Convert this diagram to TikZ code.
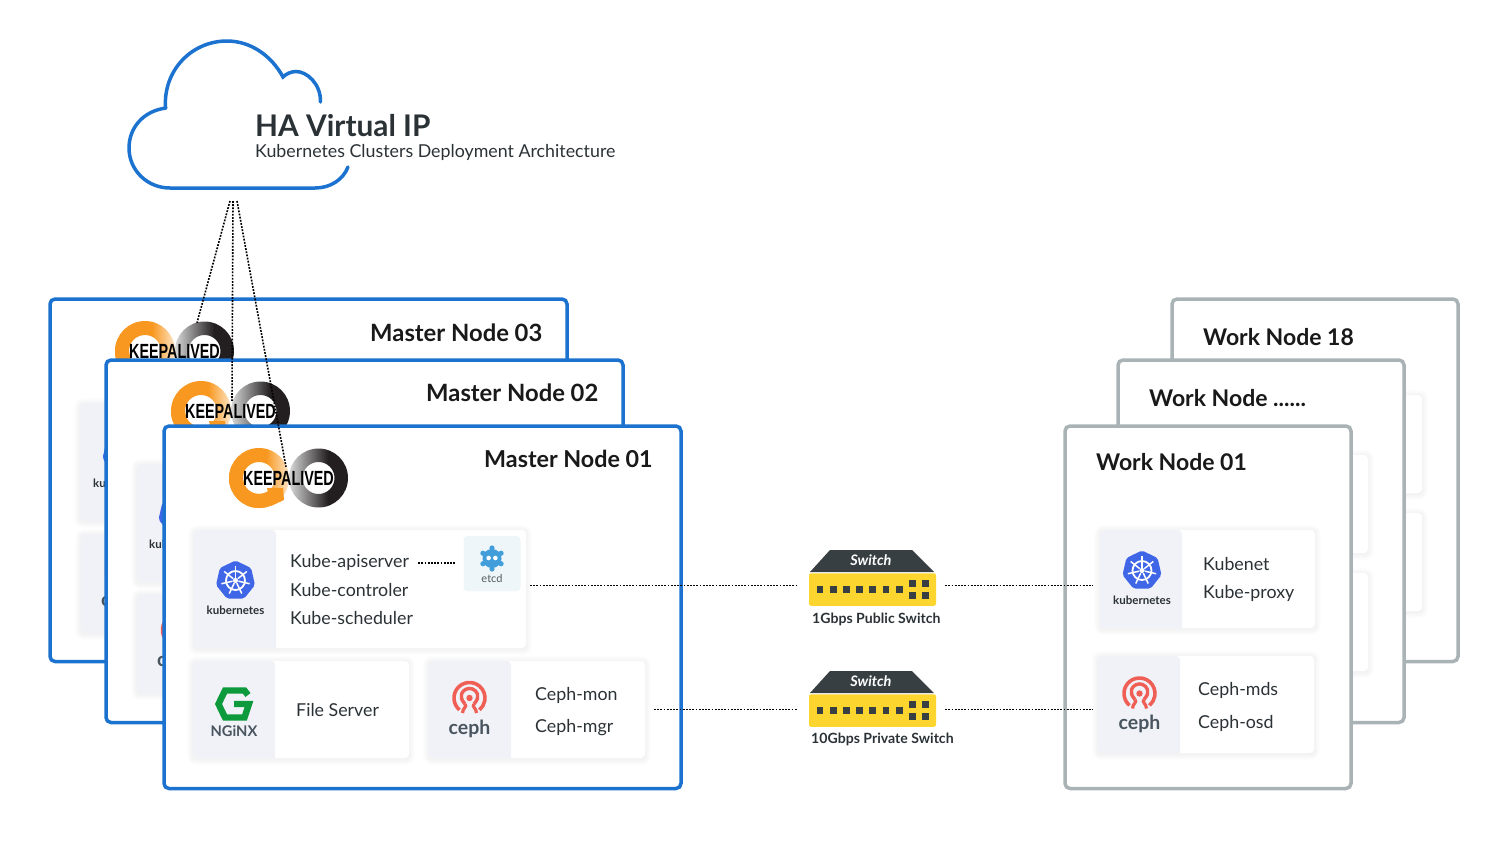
\documentclass[tikz,border=0pt]{standalone}
\usepackage{fontspec}
\setmainfont{Lato}
\newfontfamily\logofont{Liberation Sans}
\definecolor{masterblue}{HTML}{1C72CF}
\definecolor{workgray}{HTML}{A9B3B5}
\definecolor{panelfill}{HTML}{F1F2F8}
\definecolor{inktext}{HTML}{2B3236}
\definecolor{kubeblue}{HTML}{3F66E6}
\definecolor{cephred}{HTML}{EF5F56}
\definecolor{cephgray}{HTML}{48545E}
\definecolor{nginxgreen}{HTML}{0C9A3C}
\definecolor{etcdblue}{HTML}{419EDA}
\definecolor{etcdfill}{HTML}{EEF6FA}
\definecolor{switchdark}{HTML}{373F42}
\definecolor{switchyellow}{HTML}{FCD62F}
\definecolor{ringorange}{HTML}{F89820}
\definecolor{ringpale}{HTML}{FDE6C8}
\definecolor{ringblack}{HTML}{231F20}
\pgfdeclarehorizontalshading{orangering}{100bp}{color(0bp)=(ringorange); color(56bp)=(ringorange); color(75bp)=(ringpale); color(100bp)=(ringpale)}
\pgfdeclarehorizontalshading{blackring}{100bp}{color(0bp)=(white!85!black); color(25bp)=(white!85!black); color(58bp)=(ringblack); color(100bp)=(ringblack)}
\tikzset{
	masterbox/.style={draw=masterblue, fill=white, line width=3.5, rounded corners=5, anchor=north west, outer sep=0, minimum width=517, minimum height=362.5, inner sep=0},
	workbox/.style={draw=workgray, fill=white, line width=3.5, rounded corners=5, anchor=north west, outer sep=0, minimum width=286, minimum height=362.5, inner sep=0},
	nodetitle/.style={anchor=base west, inner sep=0, font=\fontsize{23.8}{26}\selectfont\bfseries, text=black!90},
	worktitle/.style={anchor=base west, inner sep=0, font=\fontsize{23}{26}\selectfont\bfseries, text=black!90},
	cardtext/.style={anchor=base west, inner sep=0, font=\fontsize{17.8}{20}\selectfont, text=inktext},
	cardbase/.style={fill=white, rounded corners=4, anchor=north west, inner sep=0, outer sep=0},
	cardshadow/.style={black, opacity=0.008},
	link/.style={line width=1.6, black, dash pattern=on 1.8pt off 1.4pt},
	switchlabel/.style={inner sep=0, font=\fontsize{14.1}{16}\selectfont\bfseries, text=inktext},
	keepalived/.pic={
		\shade[shading=orangering, even odd rule] (0,0) circle[radius=30] (0,0) circle[radius=16];
		\fill[ringorange] (180:30) arc[start angle=180, end angle=60, radius=30] -- (60:16) arc[start angle=60, end angle=180, radius=16] -- cycle;
		\fill[ringorange] (8,10) -- (24,10) -- (25,22) -- (12,28) -- cycle;
		\shade[shading=blackring, even odd rule] (59.5,0) circle[radius=29.5] (59.5,0) circle[radius=16];
		\node[inner sep=0, text=black, xscale=0.7, font=\logofont\fontsize{20.5}{22}\selectfont\bfseries] (-word) at (29.5,0) {KEEPALIVED};
	},
	kubelogo/.pic={
		\fill[kubeblue, rounded corners=2] (-90:20) -- (-38.6:20) -- (12.9:20) -- (64.3:20) -- (115.7:20) -- (167.1:20) -- (218.6:20) -- cycle;
		\draw[white, line width=1.8] (0,0) circle[radius=9.5];
		\foreach \a in {-90,-38.6,12.9,64.3,115.7,167.1,218.6}
			\draw[white, line width=1.5] (\a:3) -- (\a:14.5);
		\fill[white] (0,0) circle[radius=2.6];
		\node[inner sep=0, text=inktext, font=\fontsize{11.5}{13}\selectfont\bfseries] (-word) at (0,29.5) {kubernetes};
	},
	cephlogo/.pic={
		\draw[cephred, line width=3.6] (130:15.5) arc[start angle=130, end angle=410, radius=15.5];
		\draw[cephred, line width=3.4] (-4.5,6) .. controls (-8,2) and (-9,-1) .. (-8,-4) arc[start angle=200, end angle=340, radius=8.5] .. controls (9,-1) and (8,2) .. (4.5,6);
		\draw[cephred, line width=3.2] (-4.5,6) .. controls (-2,9) and (-7,10) .. (-7,15);
		\draw[cephred, line width=3.2] (4.5,6) .. controls (2,9) and (7,10) .. (7,15);
		\fill[cephred] (0,0) circle[radius=3.2];
		\node[inner sep=0, text=cephgray, font=\fontsize{19.5}{22}\selectfont\bfseries] (-word) at (0,30.5) {ceph};
	},
	nginxlogo/.pic={
		\draw[nginxgreen, line width=6.4, miter limit=4] (14,-9) -- (10.5,-13.5) -- (-9,-13.5) -- (-15.5,0) -- (-9,13.5) -- (10.5,13.5) -- (15,0) -- (0,0);
		\node[inner sep=0, text=cephgray, font=\fontsize{14.7}{16}\selectfont\bfseries] (-word) at (0,27) {NGiNX};
	},
	etcdlogo/.pic={
		\foreach \a in {0,60,...,300}
			\fill[etcdblue] (\a+30:10.5) circle[radius=2.6];
		\fill[etcdblue] (0,0) circle[radius=9.5];
		\fill[white] (-3.4,-0.5) circle[radius=2.3];
		\fill[white] (3.4,-0.5) circle[radius=2.3];
	},
	switchdetail/.pic={
		\fill[switchdark] (-62.5,-17.5) -- (-42.5,-39.5) -- (39.5,-39.5) -- (61.5,-17.5) -- cycle;
		\foreach \x in {-52.5,-39.2,-26.2,-12.8,0.2,13.5,26.8}
			\fill[switchdark] (\x-3.3,-3.3) rectangle (\x+3.3,3.3);
		\foreach \x in {39.8,52.8}
			\foreach \y in {-6.2,6.2}
				\fill[switchdark] (\x-3.5,\y-3.5) rectangle (\x+3.5,\y+3.5);
		\node[inner sep=0, text=white, font=\fontsize{14.5}{16}\selectfont\bfseries\itshape] (-word) at (-1.5,-29.5) {Switch};
	},
}
\newcommand{\cardbox}[6]{
	\foreach \g in {1,...,6}
		\fill[cardshadow, rounded corners=3+\g] (#2-\g,#3-\g+1) rectangle (#2+#4+\g,#3+#5+\g+1);
	\node[cardbase, minimum width=#4, minimum height=#5] (#1) at (#2,#3) {};
	\fill[panelfill, rounded corners=4] (#2+#6,#3) [sharp corners] -- (#2+#6,#3+#5) [rounded corners=4] -- (#2,#3+#5) -- (#2,#3) -- cycle;
}
\begin{document}
\begin{tikzpicture}[x=1pt, y=-1pt]
	\useasboundingbox (0,0) rectangle (1494,844);

	\draw[masterblue, line width=3.5, line cap=round] (320.5,102) .. controls (321,84) and (307,71.5) .. (296,71.5) .. controls (291,71.5) and (286,74) .. (283,77) .. controls (271,55) and (250,41) .. (227,41) .. controls (192,41) and (163,70) .. (165.5,108);
	\draw[masterblue, line width=3.5, line cap=round] (166,108) .. controls (143,111) and (129,128) .. (129,148) .. controls (129,170) and (147,188) .. (170,188) -- (315,188) .. controls (330,188) and (343,180) .. (348,167);
	\node[anchor=base west, inner sep=0, text=inktext, font=\fontsize{29.8}{32}\selectfont\bfseries] (vip) at (255,136) {HA Virtual IP};
	\node[anchor=base west, inner sep=0, text=inktext, font=\fontsize{17.8}{20}\selectfont] (vipsub) at (255,157) {Kubernetes Clusters Deployment Architecture};
	\coordinate (vipleft) at (230,201);
	\coordinate (vipmid) at (233,201);
	\coordinate (vipright) at (237,201);

	\node[masterbox] (masterthree) at (50,299) {};
	\pic (keepthree) at (145,351) {keepalived};
	\cardbox{kubethree}{80}{403}{332}{118}{82}
	\pic (logokubethree) at (122,454) {kubelogo};
	\cardbox{cephthree}{81}{534}{216}{99}{82}
	\pic (logocephthree) at (122,570) {cephlogo};
	\node[nodetitle] (titlethree) at (370,341) {Master Node 03};

	\node[masterbox] (mastertwo) at (106,360) {};
	\pic (keeptwo) at (201,411) {keepalived};
	\cardbox{kubetwo}{137}{464}{332}{118}{82}
	\pic (logokubetwo) at (178,515) {kubelogo};
	\cardbox{cephtwo}{137}{594}{216}{99}{82}
	\pic (logocephtwo) at (178,630) {cephlogo};
	\node[nodetitle] (titletwo) at (426,401) {Master Node 02};

	\node[masterbox] (masterone) at (164,426) {};
	\pic (keepone) at (259,478) {keepalived};
	\node[nodetitle, font=\fontsize{23.3}{26}\selectfont\bfseries] (titleone) at (484,467) {Master Node 01};
	\cardbox{kubecard}{194}{530}{332}{118}{82}
	\pic (logokube) at (235.5,580.5) {kubelogo};
	\node[cardtext] (apiserver) at (290,567.5) {Kube-apiserver};
	\node[cardtext] (controler) at (290,596) {Kube-controler};
	\node[cardtext] (scheduler) at (290,624) {Kube-scheduler};
	\node[fill=etcdfill, rounded corners=4, anchor=north west, inner sep=0, outer sep=0, minimum width=57, minimum height=55] (etcdcard) at (463.5,536) {};
	\pic (logoetcd) at (492,558.5) {etcdlogo};
	\node[inner sep=0, text=inktext!80, font=\fontsize{11}{13}\selectfont] (etcdword) at (492,578) {etcd};
	\cardbox{nginxcard}{193}{661}{216}{97}{82}
	\pic (logonginx) at (234,704) {nginxlogo};
	\node[cardtext] (fileserver) at (296,716) {File Server};
	\cardbox{cephcard}{429}{661}{216}{97}{82}
	\pic (logoceph) at (469.5,698) {cephlogo};
	\node[cardtext] (cephmon) at (535,700) {Ceph-mon};
	\node[cardtext] (cephmgr) at (535,732) {Ceph-mgr};

	\node[workbox] (workeighteen) at (1172,299) {};
	\cardbox{ghosta}{1207}{395}{215}{98}{82}
	\cardbox{ghostb}{1207}{513}{215}{98}{82}
	\node[worktitle] (titleeighteen) at (1203,345) {Work Node 18};
	\node[workbox] (workmore) at (1118,360) {};
	\cardbox{ghostc}{1153}{455}{215}{98}{82}
	\cardbox{ghostd}{1153}{573}{215}{98}{82}
	\node[worktitle] (titlemore) at (1149,406) {Work Node ......};
	\node[workbox] (workone) at (1065,426) {};
	\node[worktitle] (titlework) at (1096,470.5) {Work Node 01};
	\cardbox{workkube}{1100}{530}{215}{98}{82}
	\pic (logoworkkube) at (1142,570.5) {kubelogo};
	\node[cardtext] (kubenet) at (1203,570) {Kubenet};
	\node[cardtext] (kubeproxy) at (1203,598) {Kube-proxy};
	\cardbox{workceph}{1098}{656}{216}{97}{82}
	\pic (logoworkceph) at (1139.5,693.5) {cephlogo};
	\node[cardtext] (cephmds) at (1198,695) {Ceph-mds};
	\node[cardtext] (cephosd) at (1198,728) {Ceph-osd};

	\node[fill=switchyellow, rounded corners=2, inner sep=0, minimum width=127, minimum height=32.5] (pubswitch) at (872.5,589.5) {};
	\pic (detailpub) at (872.5,589.5) {switchdetail};
	\node[switchlabel, anchor=base west] (publabel) at (812,623.5) {1Gbps Public Switch};
	\node[fill=switchyellow, rounded corners=2, inner sep=0, minimum width=127, minimum height=32.5] (privswitch) at (872.5,710.5) {};
	\pic (detailpriv) at (872.5,710.5) {switchdetail};
	\node[switchlabel, anchor=base west] (privlabel) at (811,743.5) {10Gbps Private Switch};

	\coordinate (apitap) at ([xshift=9,yshift=4.5]apiserver.base east);
	\draw[link] (apitap) -- ([xshift=-8]etcdcard.west |- apitap);
	\draw[link] ([xshift=4,yshift=3.5]kubecard.east) -- ([xshift=-12,yshift=4]pubswitch.west);
	\draw[link] ([xshift=9,yshift=4]pubswitch.east) -- ([xshift=-7,yshift=-6.5]workkube.west);
	\draw[link] ([xshift=9]cephcard.east) -- ([xshift=-12,yshift=1]privswitch.west);
	\draw[link] ([xshift=9,yshift=1]privswitch.east) -- ([xshift=-5,yshift=-5]workceph.west);
	\draw[link] (vipleft) -- ([xshift=22.5,yshift=21]keepthree-word.north);
	\draw[link] (vipmid) -- ([xshift=1.5,yshift=3]keeptwo-word.north);
	\draw[link] (vipright) -- ([xshift=-2.5,yshift=4]keepone-word.north);
\end{tikzpicture}
\end{document}
